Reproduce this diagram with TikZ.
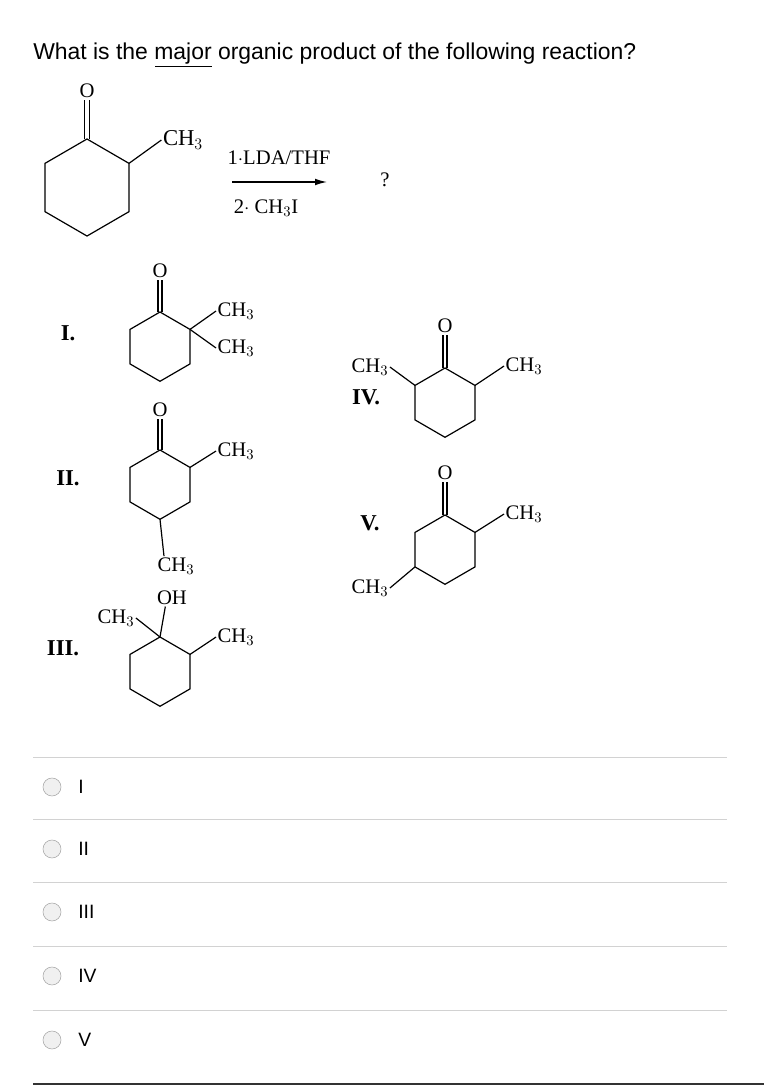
\documentclass[tikz,border=0pt]{standalone}
\usepackage{fontspec}
\usetikzlibrary{arrows.meta}
\setmainfont{Liberation Serif}
\newfontfamily\arial{Liberation Sans}
\newcommand\hexring[4]{% name, cx, topy, halfwidth
  \coordinate (#1-1) at (#2,#3);
  \coordinate (#1-2) at (#2+#4,#3+0.58*#4);
  \coordinate (#1-3) at (#2+#4,#3+1.73*#4);
  \coordinate (#1-4) at (#2,#3+2.31*#4);
  \coordinate (#1-5) at (#2-#4,#3+1.73*#4);
  \coordinate (#1-6) at (#2-#4,#3+0.58*#4);
  \draw[bond] (#1-1)--(#1-2)--(#1-3)--(#1-4)--(#1-5)--(#1-6)--cycle;}
\begin{document}
\begin{tikzpicture}[x=0.75pt,y=-0.75pt,
  bond/.style={line width=0.9pt,line join=miter},
  chem/.style={font=\fontsize{15.5}{15.5}\selectfont,inner sep=1pt},
  lab/.style={font=\fontsize{17}{17}\selectfont\bfseries,inner sep=0pt},
  opt/.style={font=\arial\fontsize{14.5}{14.5}\selectfont,anchor=west,inner sep=0pt},
  radio/.style={circle,draw=gray!70,fill=gray!12,minimum size=13.5pt,inner sep=0pt},
  sep/.style={draw=gray!35,line width=0.6pt}]
\useasboundingbox (0,0) rectangle (764,1086);
\fill[white] (0,0) rectangle (764,1086);
\node[anchor=west,inner sep=0pt,font=\arial\fontsize{17.2}{17.2}\selectfont] (title) at (33,54)
  {What is the major organic product of the following reaction?};
\draw[line width=0.7pt] (155,66) -- (212,66);
% starting material
\hexring{s}{87}{139}{42}
\node[chem] (sO) at (87,91) {O};
\draw[bond] ([xshift=-1.6pt]s-1) -- ([xshift=-1.6pt]sO.south);
\draw[bond] ([xshift=1.6pt]s-1) -- ([xshift=1.6pt]sO.south);
\node[chem,font=\fontsize{17}{17}\selectfont] (sMe) at (183,140) {CH$_3$};
\draw[bond] (s-2) -- (sMe.west);
\coordinate (aS) at (232,182); \coordinate (aE) at (327,182);
\draw[line width=0.9pt,-{Latex[length=9pt,width=5pt]}] (aS) -- (aE);
\node[chem] (r1) at (279,158) {1$\cdot$LDA/THF};
\node[chem] (r2) at (266,208) {2$\cdot$ CH$_3$I};
\node[chem] (q) at (385,180) {?};
% I
\node[lab] (L1) at (68,333) {I.};
\hexring{a}{160}{312}{30}
\node[chem] (aO) at (160,271) {O};
\draw[bond] ([xshift=-1.5pt]a-1) -- ([xshift=-1.5pt]aO.south);
\draw[bond] ([xshift=1.5pt]a-1) -- ([xshift=1.5pt]aO.south);
\node[chem] (aM1) at (236,311) {CH$_3$};
\node[chem] (aM2) at (236,348) {CH$_3$};
\draw[bond] (a-2) -- (aM1.west); \draw[bond] (a-2) -- (aM2.west);
% II
\node[lab] (L2) at (68,478) {II.};
\hexring{b}{160}{450}{30}
\node[chem] (bO) at (160,410) {O};
\draw[bond] ([xshift=-1.5pt]b-1) -- ([xshift=-1.5pt]bO.south);
\draw[bond] ([xshift=1.5pt]b-1) -- ([xshift=1.5pt]bO.south);
\node[chem] (bM1) at (236,451) {CH$_3$};
\draw[bond] (b-2) -- (bM1.west);
\node[chem] (bM2) at (176,566) {CH$_3$};
\draw[bond] (b-4) -- ([xshift=-9pt]bM2.north);
% III
\node[lab] (L3) at (63,648) {III.};
\hexring{c}{160}{637}{30}
\node[chem] (cOH) at (172,598) {OH};
\draw[bond] (c-1) -- ([xshift=-5pt]cOH.south);
\node[chem] (cM1) at (116,618) {CH$_3$};
\draw[bond] (c-1) -- (cM1.east);
\node[chem] (cM2) at (236,637) {CH$_3$};
\draw[bond] (c-2) -- (cM2.west);
% IV
\node[lab] (L4) at (366,397) {IV.};
\hexring{d}{445}{368}{30}
\node[chem] (dO) at (445,326) {O};
\draw[bond] ([xshift=-1.5pt]d-1) -- ([xshift=-1.5pt]dO.south);
\draw[bond] ([xshift=1.5pt]d-1) -- ([xshift=1.5pt]dO.south);
\node[chem] (dM1) at (370,367) {CH$_3$};
\draw[bond] (d-6) -- (dM1.east);
\node[chem] (dM2) at (524,366) {CH$_3$};
\draw[bond] (d-2) -- (dM2.west);
% V
\node[lab] (L5) at (370,523) {V.};
\hexring{e}{445}{515}{30}
\node[chem] (eO) at (445,473) {O};
\draw[bond] ([xshift=-1.5pt]e-1) -- ([xshift=-1.5pt]eO.south);
\draw[bond] ([xshift=1.5pt]e-1) -- ([xshift=1.5pt]eO.south);
\node[chem] (eM1) at (524,514) {CH$_3$};
\draw[bond] (e-2) -- (eM1.west);
\node[chem] (eM2) at (370,588) {CH$_3$};
\draw[bond] (e-5) -- (eM2.east);
% options
\foreach \y/\t [count=\i] in {787/I,849/II,912/III,976/IV,1040/V}{
  \draw[sep] (33,\y-30) -- (727,\y-30);
  \node[radio] (rb\i) at (52,\y) {};
  \node[opt] (ot\i) at (78,\y) {\t};
}
\draw[line width=1.5pt,black!80] (33,1084) -- (764,1084);
\end{tikzpicture}
\end{document}
